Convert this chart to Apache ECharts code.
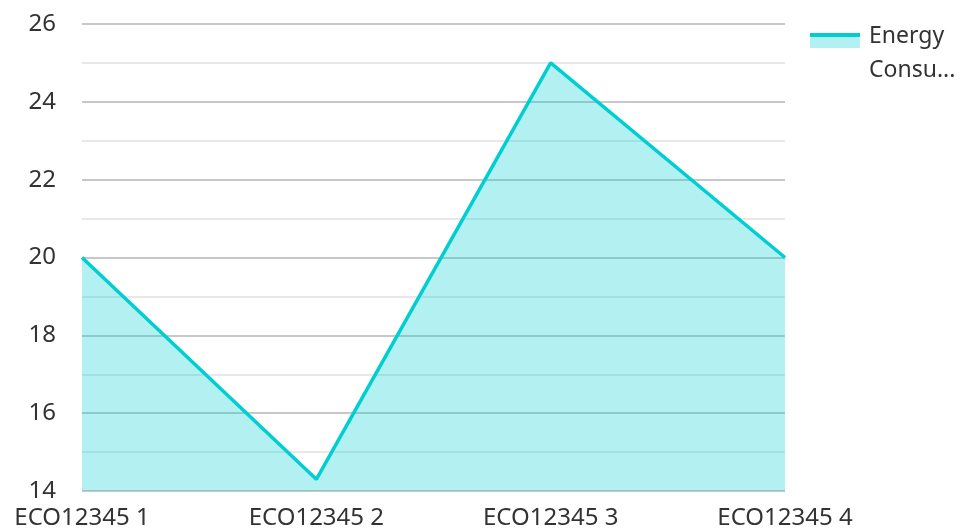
<!DOCTYPE html>
<html><head><meta charset="utf-8">
<script src="https://cdn.jsdelivr.net/npm/echarts@6/dist/echarts.min.js"></script>
<style>html,body{margin:0;padding:0;background:#fff}#c{width:963px;height:532px}</style>
</head><body><div id="c"></div>
<script>
const categories = ['ECO12345 1', 'ECO12345 2', 'ECO12345 3', 'ECO12345 4'];
const seriesName = 'Energy Consumption';
const values = [20, 14.3, 25, 20];
const yMin = 14, yMax = 26, yStep = 2;

const chart = echarts.init(document.getElementById('c'));
const font = '"Noto Sans", "Open Sans", sans-serif';
chart.setOption({
  animation: false,
  textStyle: { fontFamily: font },
  grid: { left: 82, right: 178, top: 24, bottom: 41, containLabel: false },
  legend: {
    orient: 'vertical', left: 805, top: 14,
    itemWidth: 50, itemHeight: 32, itemGap: 10,
    symbolKeepAspect: false,
    icon: 'path://M0,0 H50 V11 H0 Z M0,31.99 H0.01 V32 H0 Z',
    itemStyle: { color: '#b3f0f1', shadowColor: '#00CED1', shadowBlur: 0, shadowOffsetX: 0, shadowOffsetY: -4 },
    formatter: function (name) {
      const i = name.indexOf(' ');
      return i > 0 ? name.slice(0, i) + '\n' + name.slice(i + 1) : name;
    },
    textStyle: { fontSize: 23, color: '#333', fontFamily: font, width: 96, overflow: 'truncate', ellipsis: '...', lineHeight: 34, padding: [0, 0, 0, 4] },
    data: [seriesName]
  },
  xAxis: {
    type: 'category', data: categories, boundaryGap: false,
    axisLine: { show: false }, axisTick: { show: false },
    axisLabel: { fontSize: 24, color: '#333', margin: 15, fontFamily: font, interval: 0 }
  },
  yAxis: {
    type: 'value', min: yMin, max: yMax, interval: yStep,
    axisLine: { show: false }, axisTick: { show: false },
    axisLabel: { fontSize: 24, color: '#333', margin: 26, fontFamily: font },
    splitLine: { lineStyle: { color: '#c8c8c8', width: 2 } },
    minorTick: { show: false, splitNumber: 2 },
    minorSplitLine: { show: true, lineStyle: { color: '#e8e8e8', width: 2 } }
  },
  series: [{
    name: seriesName, type: 'line', data: values,
    symbol: 'none', lineStyle: { color: '#00CED1', width: 3.5 },
    itemStyle: { color: '#00CED1' },
    areaStyle: { color: '#00CED1', opacity: 0.3 }
  }]
});
</script></body></html>
